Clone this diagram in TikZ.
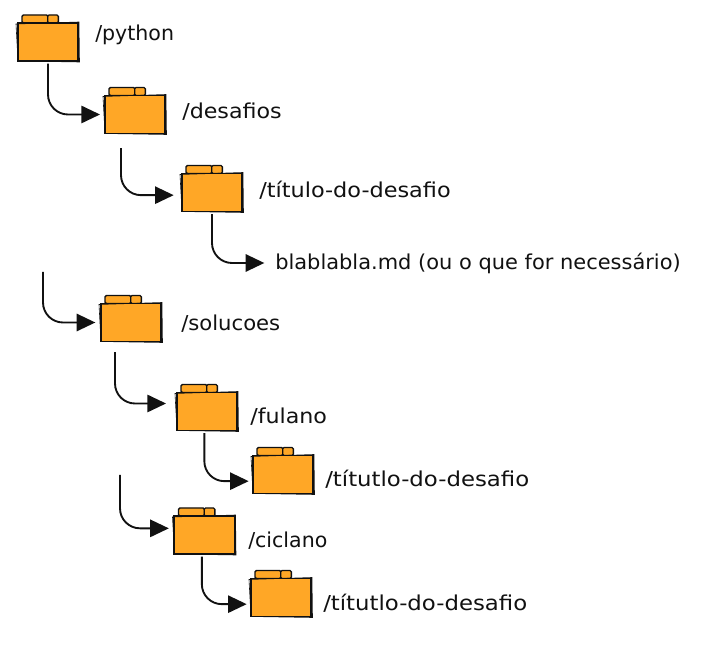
\documentclass[tikz,border=0pt]{standalone}
\usepackage{fontspec}
\setmainfont{DejaVu Sans}
\usetikzlibrary{arrows.meta}
\definecolor{folderfill}{HTML}{FFA726}
\definecolor{ink}{HTML}{111111}
\tikzset{
  body/.style={draw=ink, fill=folderfill, line width=1.3pt, minimum width=45.5pt, minimum height=28.5pt, inner sep=0pt, outer sep=2pt},
  tab/.style={draw=ink, fill=folderfill, line width=1pt, rounded corners=1pt, minimum height=6pt, inner sep=0pt},
  rough/.style={draw=ink, line width=0.45pt},
  conn/.style={draw=ink, line width=1.4pt, rounded corners=15pt, -{Triangle[length=14pt,width=13pt]}},
  lbl/.style={anchor=west, inner sep=0pt, text=ink, font=\fontsize{15.4}{18}\selectfont},
  wide/.style={transform shape, xscale=#1}
}
% folder: tab pieces, body, and a second loose outline
\newcommand{\folder}[3]{%
  \node[tab, minimum width=19.5pt] (#1tabl) at (#2-13,#3-23) {};
  \node[tab, minimum width=8pt] (#1tabr) at (#2+5,#3-23) {};
  \node[body] (#1) at (#2,#3) {};
  \draw[rough] (#2-32,#3-18) -- (#2+31,#3-20) -- (#2+31.5,#3+20) -- (#2-30,#3+19) -- cycle;
}
\begin{document}
\begin{tikzpicture}[x=0.75pt,y=-0.75pt]
\useasboundingbox (0,0) rectangle (704,648);
\fill[white] (0,0) rectangle (704,648);

\folder{python}{48}{42}
\folder{desafios}{135}{114.5}
\folder{titulo}{212}{192.5}
\folder{solucoes}{131}{322.5}
\folder{fulano}{207}{411.5}
\folder{titutloa}{283}{474.5}
\folder{ciclano}{204.5}{535}
\folder{titutlob}{281}{597.5}

\node[lbl] (lpython) at (95,35) {/python};
\node[lbl, wide=1.08] (ldesafios) at (182,112) {/desafios};
\node[lbl, wide=1.09] (ltitulo) at (259,190) {/título-do-desafio};
\node[lbl, wide=1.02] (lblabla) at (275,263) {blablabla.md (ou o que for necessário)};
\node[lbl, wide=1.03] (lsolucoes) at (181,324) {/solucoes};
\node[lbl, wide=1.08] (lfulano) at (250,417) {/fulano};
\node[lbl, wide=1.11] (ltitutloa) at (325,479) {/títutlo-do-desafio};
\node[lbl] (lciclano) at (248,541) {/ciclano};
\node[lbl, wide=1.11] (ltitutlob) at (323,603) {/títutlo-do-desafio};

\coordinate (freea) at (43,272);
\coordinate (freeb) at (120,475);

\draw[conn] (python.south) |- ([xshift=-1.5pt]desafios.west);
\draw[conn] ([xshift=-10.5pt,yshift=-9pt]desafios.south) |- ([xshift=-4pt,yshift=-2pt]titulo.west);
\draw[conn] (titulo.south) |- ([xshift=-8pt]lblabla.west);
\draw[conn] (freea) |- ([xshift=-2pt]solucoes.west);
\draw[conn] ([xshift=-12pt,yshift=-6pt]solucoes.south) |- ([xshift=-6pt,yshift=6pt]fulano.west);
\draw[conn] ([xshift=-2pt]fulano.south) |- ([xshift=-1pt,yshift=-5pt]titutloa.west);
\draw[conn] (freeb) |- ([xshift=-2pt,yshift=5pt]ciclano.west);
\draw[conn] ([xshift=-2pt]ciclano.south) |- ([xshift=-1pt,yshift=-5pt]titutlob.west);
\end{tikzpicture}
\end{document}
